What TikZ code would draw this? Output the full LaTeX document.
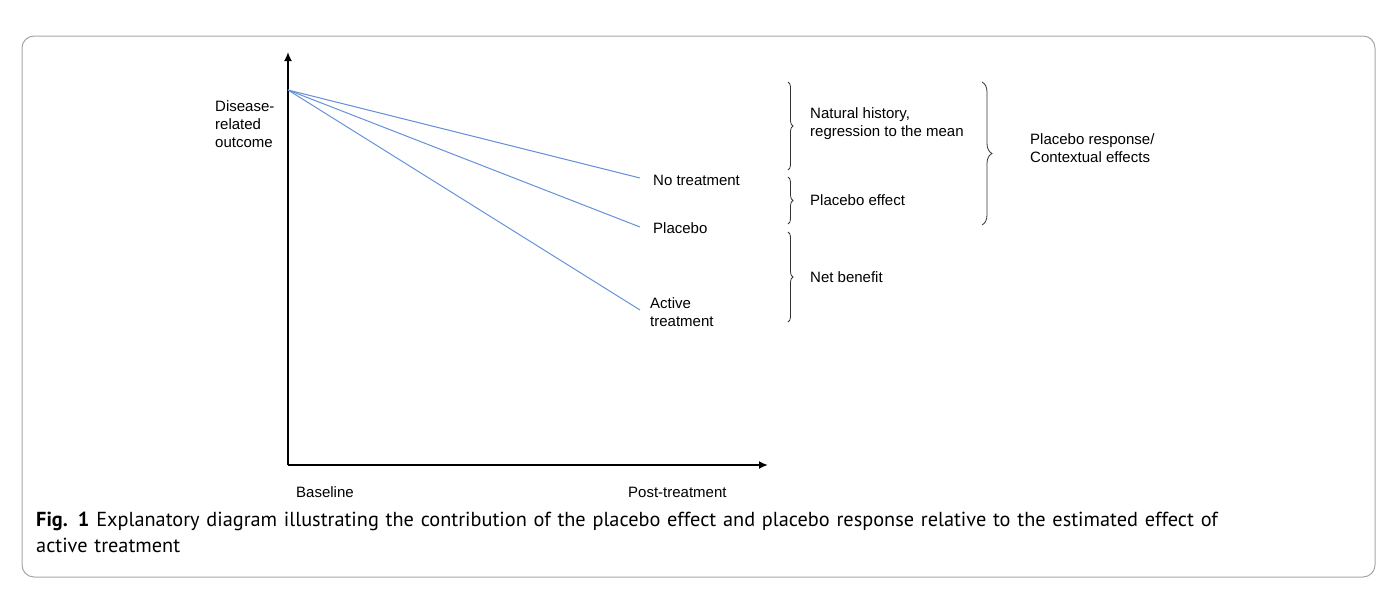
\documentclass[tikz,border=0pt]{standalone}
\usepackage{fontspec}
\setmainfont{Liberation Sans}
\newfontfamily\capfont{PT Sans}
\usetikzlibrary{decorations.pathreplacing,arrows.meta}
\definecolor{lineblue}{RGB}{100,145,215}
\begin{document}
\begin{tikzpicture}[x=1pt,y=-1pt,
  lab/.style={font=\fontsize{15}{18}\selectfont,anchor=west,align=left,inner sep=0},
  br/.style={decorate,decoration={brace,amplitude=5pt},line width=0.8pt,black!80},
  axis/.style={line width=2.8pt,-{Latex[length=9pt,width=8pt]}},
  trend/.style={lineblue,line width=1pt}]
\useasboundingbox (0,0) rectangle (1390,608);
\draw[gray!70,line width=1pt,rounded corners=12pt] (22,36) rectangle (1375,577);
\coordinate (O) at (288,465);
\coordinate (yt) at (288,52);
\coordinate (xt) at (768,465);
\draw[axis] (O) -- (yt);
\draw[axis] (O) -- (xt);
\coordinate (S) at (288,90);
\coordinate (nt) at (640,178);
\coordinate (pl) at (640,227);
\coordinate (at) at (640,310);
\draw[trend] (S) -- (nt);
\draw[trend] (S) -- (pl);
\draw[trend] (S) -- (at);
\node[lab] (dro) at (215,124) {Disease-\\related\\outcome};
\node[lab] (lnt) at (653,180) {No treatment};
\node[lab] (lpl) at (653,228) {Placebo};
\node[lab] (lat) at (650,312) {Active\\treatment};
\coordinate (b1a) at (788,82); \coordinate (b1b) at (788,170);
\coordinate (b2a) at (788,177); \coordinate (b2b) at (788,224);
\coordinate (b3a) at (788,232); \coordinate (b3b) at (788,322);
\coordinate (b4a) at (982,82); \coordinate (b4b) at (982,225);
\draw[br] (b1a) -- (b1b);
\draw[br] (b2a) -- (b2b);
\draw[br] (b3a) -- (b3b);
\draw[br,decoration={brace,amplitude=10pt}] (b4a) -- (b4b);
\node[lab] (nh) at (810,124) {Natural history,\\regression to the mean};
\node[lab] (pe) at (810,200) {Placebo effect};
\node[lab] (nb) at (810,277) {Net benefit};
\node[lab] (pr) at (1030,148) {Placebo response/\\Contextual effects};
\node[lab] (bl) at (296,492) {Baseline};
\node[lab] (pt) at (628,492) {Post-treatment};
\node[anchor=north west,align=left,inner sep=0,text width=1300pt,
  font=\capfont\fontsize{20.3}{26}\selectfont] (cap) at (36,512)
  {\textbf{Fig. 1} Explanatory diagram illustrating the contribution of the placebo effect and placebo response relative to the estimated effect of\\active treatment};
\end{tikzpicture}
\end{document}
